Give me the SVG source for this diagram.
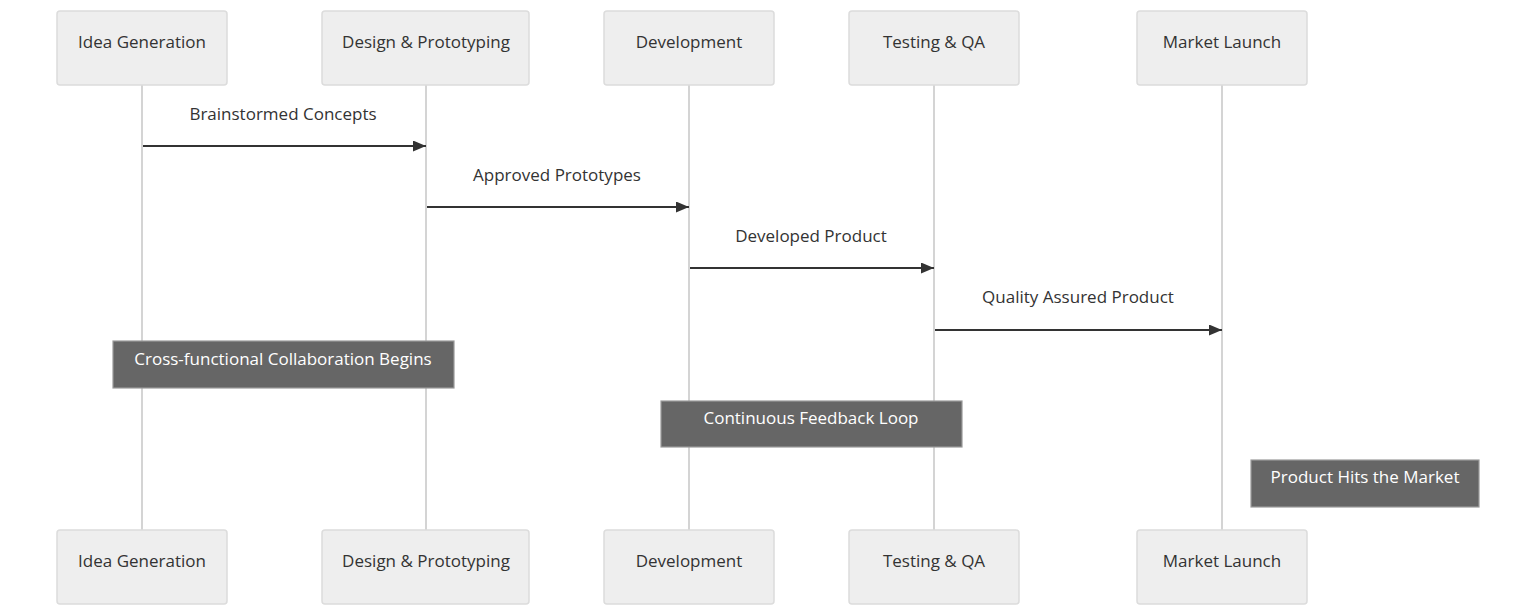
<svg xmlns="http://www.w3.org/2000/svg" width="1536" height="616" viewBox="0 0 1536 616">
<style>
.actor{fill:#eeeeee;stroke:#dcdcdc;stroke-width:1.5}
.atext{font-family:"Open Sans","Liberation Sans",sans-serif;font-size:17px;fill:#333333;text-anchor:middle;dominant-baseline:central}
.life{stroke:#d4d4d4;stroke-width:2;fill:none}
.msg{stroke:#333333;stroke-width:1.8;fill:none}
.mtext{font-family:"Open Sans","Liberation Sans",sans-serif;font-size:17px;fill:#333333;text-anchor:middle;dominant-baseline:central}
.note{fill:#666666;stroke:#9a9a9a;stroke-width:1.2}
.ntext{font-family:"Open Sans","Liberation Sans",sans-serif;font-size:17px;fill:#ffffff;text-anchor:middle;dominant-baseline:central}
</style>
<defs>
<marker id="arrow" viewBox="0 0 13 11" refX="13" refY="5.5" markerWidth="13" markerHeight="11" markerUnits="userSpaceOnUse" orient="auto">
<path d="M0,0 L13,5.5 L0,11 z" fill="#333333"/>
</marker>
</defs>
<rect width="1536" height="616" fill="#ffffff"/>
<g id="lifelines">
<line class="life" x1="142" y1="85" x2="142" y2="530"/>
<line class="life" x1="426" y1="85" x2="426" y2="530"/>
<line class="life" x1="689" y1="85" x2="689" y2="530"/>
<line class="life" x1="934" y1="85" x2="934" y2="530"/>
<line class="life" x1="1222" y1="85" x2="1222" y2="530"/>
</g>
<g id="actor-idea-top"><rect class="actor" x="57" y="11" width="170" height="74" rx="3"/><text class="atext" x="142" y="41">Idea Generation</text></g>
<g id="actor-design-top"><rect class="actor" x="322" y="11" width="207" height="74" rx="3"/><text class="atext" x="426" y="41">Design &amp; Prototyping</text></g>
<g id="actor-dev-top"><rect class="actor" x="604" y="11" width="170" height="74" rx="3"/><text class="atext" x="689" y="41">Development</text></g>
<g id="actor-test-top"><rect class="actor" x="849" y="11" width="170" height="74" rx="3"/><text class="atext" x="934" y="41">Testing &amp; QA</text></g>
<g id="actor-market-top"><rect class="actor" x="1137" y="11" width="170" height="74" rx="3"/><text class="atext" x="1222" y="41">Market Launch</text></g>
<g id="actor-idea-bottom"><rect class="actor" x="57" y="530" width="170" height="74" rx="3"/><text class="atext" x="142" y="560">Idea Generation</text></g>
<g id="actor-design-bottom"><rect class="actor" x="322" y="530" width="207" height="74" rx="3"/><text class="atext" x="426" y="560">Design &amp; Prototyping</text></g>
<g id="actor-dev-bottom"><rect class="actor" x="604" y="530" width="170" height="74" rx="3"/><text class="atext" x="689" y="560">Development</text></g>
<g id="actor-test-bottom"><rect class="actor" x="849" y="530" width="170" height="74" rx="3"/><text class="atext" x="934" y="560">Testing &amp; QA</text></g>
<g id="actor-market-bottom"><rect class="actor" x="1137" y="530" width="170" height="74" rx="3"/><text class="atext" x="1222" y="560">Market Launch</text></g>
<g id="connectors">
<line class="msg" x1="143" y1="146" x2="426" y2="146" marker-end="url(#arrow)"/>
<text class="mtext" x="283" y="113">Brainstormed Concepts</text>
<line class="msg" x1="427" y1="207" x2="689" y2="207" marker-end="url(#arrow)"/>
<text class="mtext" x="557" y="174">Approved Prototypes</text>
<line class="msg" x1="690" y1="268" x2="934" y2="268" marker-end="url(#arrow)"/>
<text class="mtext" x="811" y="235">Developed Product</text>
<line class="msg" x1="935" y1="330" x2="1222" y2="330" marker-end="url(#arrow)"/>
<text class="mtext" x="1078" y="296">Quality Assured Product</text>
</g>
<g id="note-collab"><rect class="note" x="113" y="341" width="341" height="47"/><text class="ntext" x="283" y="358">Cross-functional Collaboration Begins</text></g>
<g id="note-feedback"><rect class="note" x="661" y="401" width="301" height="46"/><text class="ntext" x="811" y="417">Continuous Feedback Loop</text></g>
<g id="note-market"><rect class="note" x="1251" y="460" width="228" height="47"/><text class="ntext" x="1365" y="476">Product Hits the Market</text></g>
</svg>
